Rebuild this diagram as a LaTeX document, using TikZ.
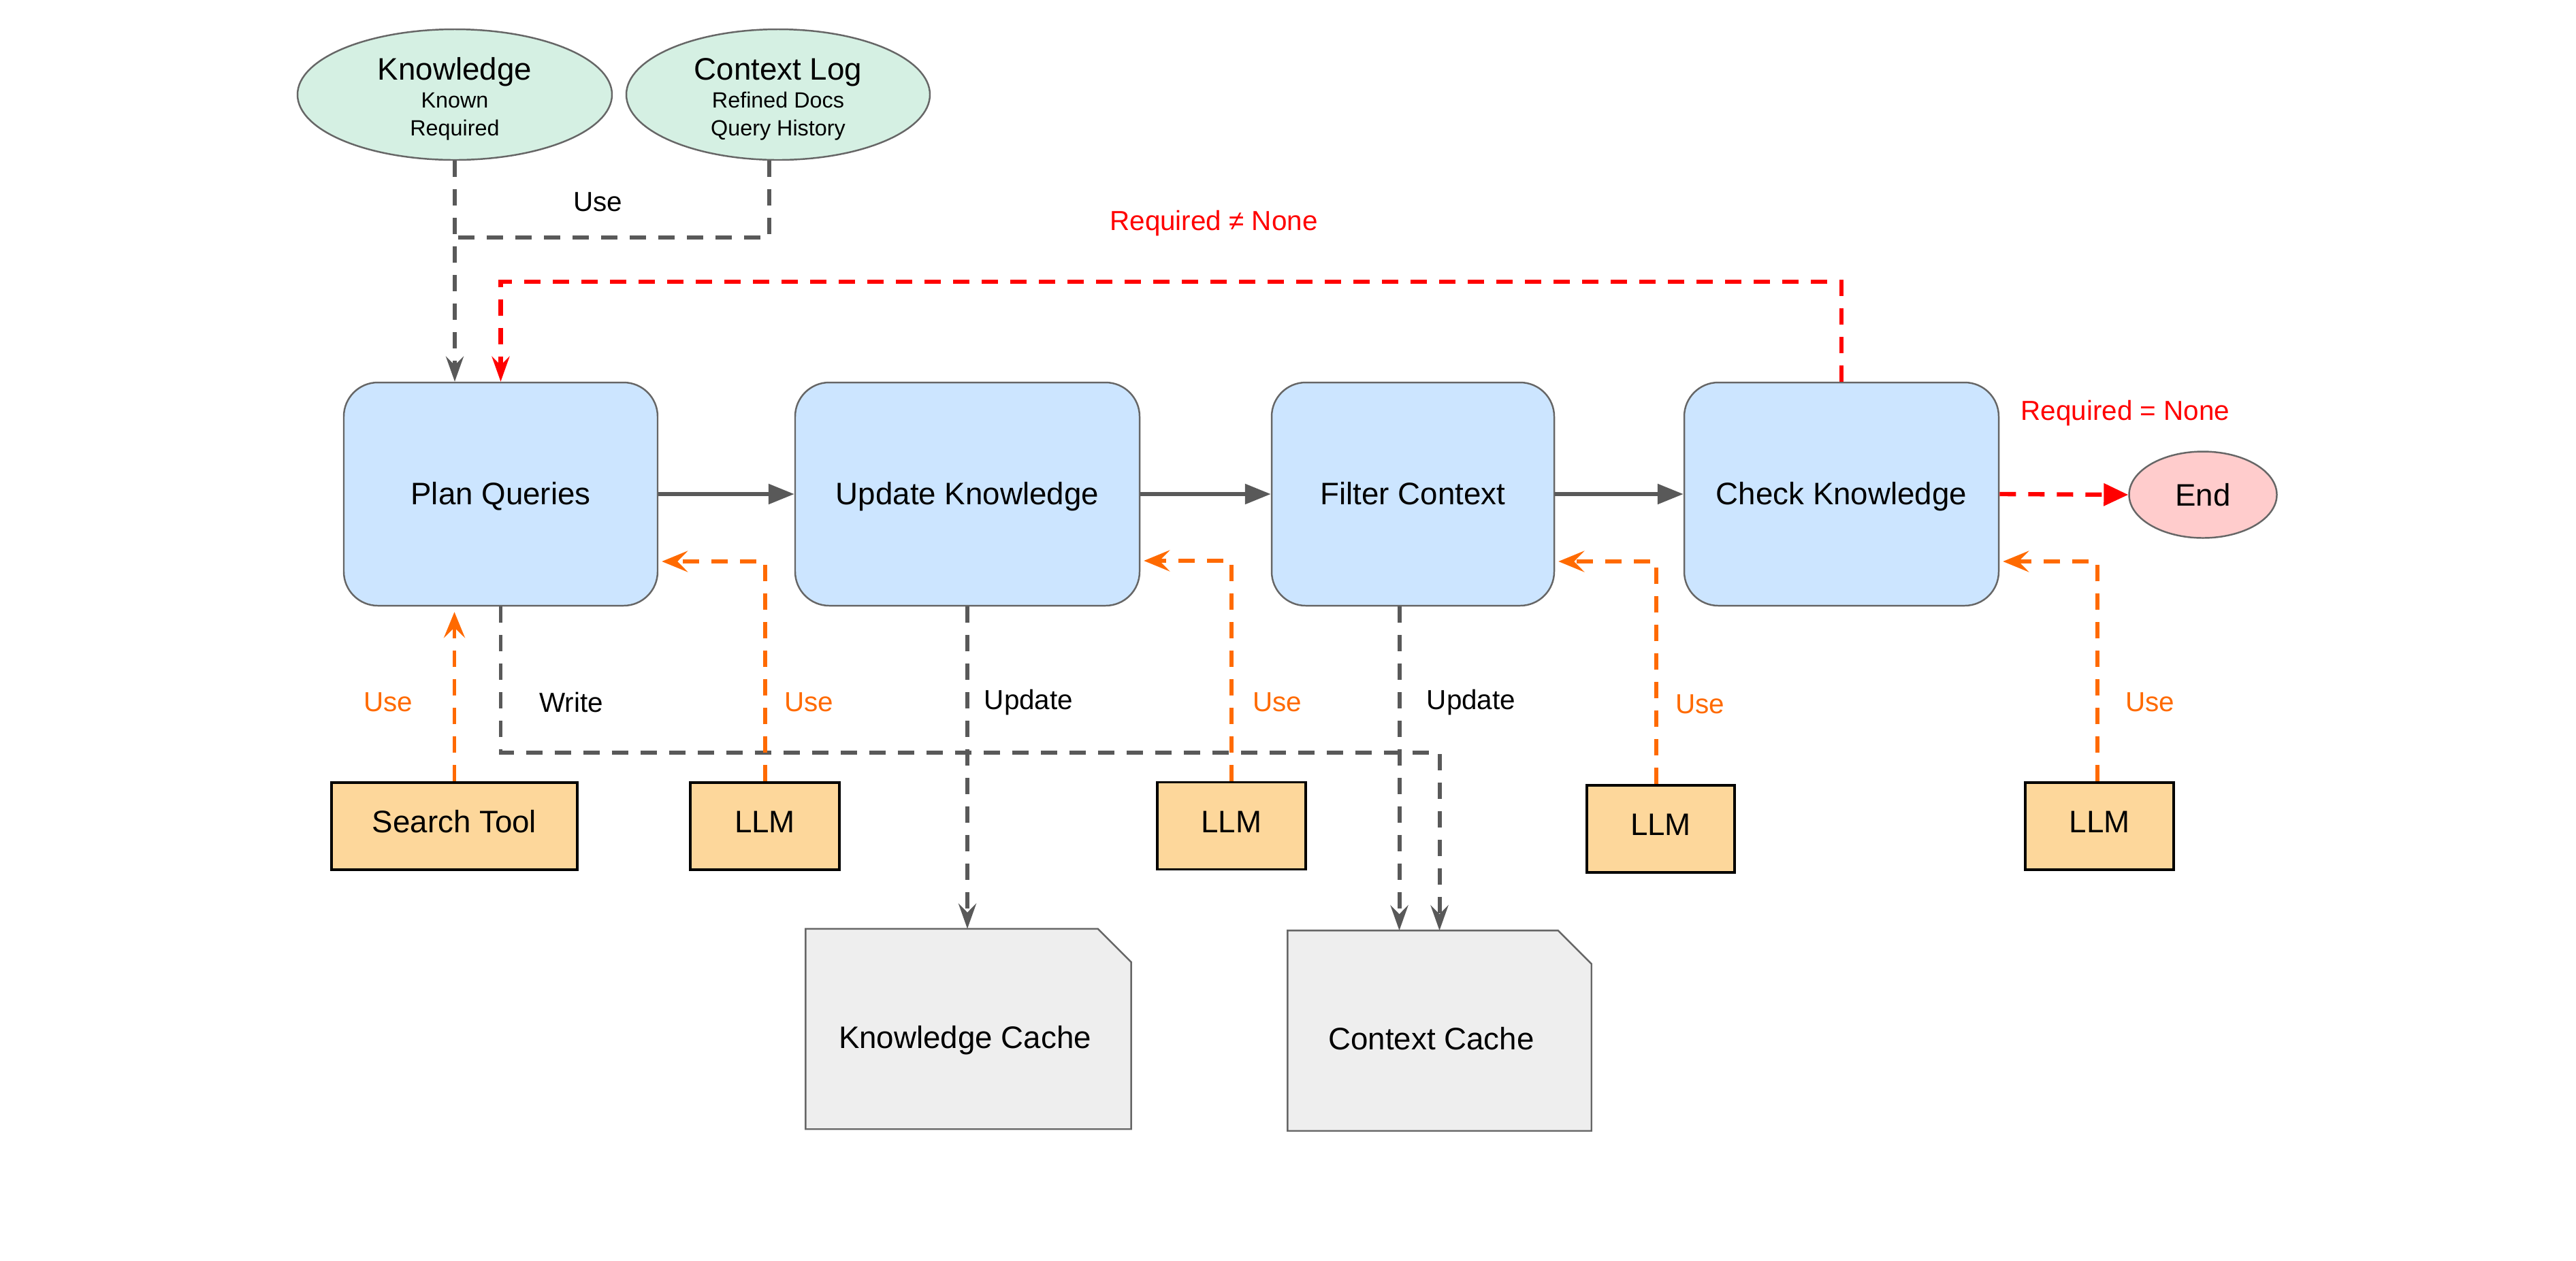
\documentclass[tikz,border=0pt]{standalone}
\usepackage{fontspec}
\setmainfont{Liberation Sans}
\usetikzlibrary{arrows.meta,shapes.geometric,backgrounds}
\definecolor{stageblue}{HTML}{CCE5FF}
\definecolor{statemint}{HTML}{D5F0E3}
\definecolor{toolsand}{HTML}{FDD79B}
\definecolor{endpink}{HTML}{FFCCCC}
\definecolor{cachegray}{HTML}{EEEEEE}
\definecolor{edgegray}{HTML}{666666}
\definecolor{linegray}{HTML}{595959}
\definecolor{useorange}{HTML}{FF6A00}
\definecolor{loopred}{HTML}{FF0000}
\begin{document}
\begin{tikzpicture}[
  stage/.style={draw=edgegray,line width=0.7pt,fill=stageblue,rounded corners=0.5cm,minimum height=3.28cm,inner sep=0pt,text height=0.4cm,text depth=0.1cm,font=\fontsize{13}{15}\selectfont},
  state/.style={ellipse,draw=edgegray,line width=0.7pt,fill=statemint,minimum height=1.92cm,inner sep=0pt,align=center,font=\fontsize{9.2}{11.8}\selectfont},
  tool/.style={draw=black,line width=0.9pt,fill=toolsand,minimum height=1.28cm,inner sep=0pt,text height=0.35cm,text depth=0.16cm,font=\fontsize{13}{15}\selectfont},
  store/.style={minimum height=2.93cm,inner sep=0pt},
  storetext/.style={text height=0.4cm,text depth=0.1cm,font=\fontsize{13}{15}\selectfont},
  lbl/.style={font=\fontsize{11.5}{14}\selectfont},
  flow/.style={draw=linegray,line width=1.6pt,-{Triangle[length=0.38cm,width=0.29cm]}},
  dataline/.style={draw=linegray,line width=1.7pt,dash pattern=on 0.24cm off 0.18cm},
  datarrow/.style={dataline,-{Stealth[length=0.37cm,width=0.26cm,inset=0.13cm]}},
  useline/.style={draw=useorange,line width=1.7pt,dash pattern=on 0.24cm off 0.18cm,-{Stealth[length=0.38cm,width=0.31cm,inset=0.15cm]}},
  loopline/.style={draw=loopred,line width=1.8pt,dash pattern=on 0.24cm off 0.18cm},
]
\useasboundingbox (0,0) rectangle (37.84,-18.52);
% state
\node[state,minimum width=4.62cm] (Know) at (6.68,-1.39) {{\fontsize{13}{15}\selectfont\rule{0pt}{13pt}Knowledge}\\Known\\Required};
\node[state,minimum width=4.46cm] (CtxLog) at (11.43,-1.39) {{\fontsize{13}{15}\selectfont\rule{0pt}{13pt}Context Log}\\Refined Docs\\Query History};
% stages
\node[stage,minimum width=4.61cm] (Plan) at (7.355,-7.26) {Plan Queries};
\node[stage,minimum width=5.06cm] (UpdKnow) at (14.21,-7.26) {Update Knowledge};
\node[stage,minimum width=4.15cm] (Filter) at (20.755,-7.26) {Filter Context};
\node[stage,minimum width=4.62cm] (Check) at (27.05,-7.26) {Check Knowledge};
\node[ellipse,draw=edgegray,line width=0.7pt,fill=endpink,minimum width=2.17cm,minimum height=1.27cm,inner sep=0pt,font=\fontsize{13}{15}\selectfont] (End) at (32.36,-7.27) {End};
% tools
\node[tool,minimum width=3.61cm] (Search) at (6.675,-12.14) {Search Tool};
\node[tool,minimum width=2.19cm] (LLMa) at (11.235,-12.14) {LLM};
\node[tool,minimum width=2.18cm] (LLMb) at (18.09,-12.135) {LLM};
\node[tool,minimum width=2.17cm] (LLMc) at (24.395,-12.18) {LLM};
\node[tool,minimum width=2.18cm] (LLMd) at (30.84,-12.14) {LLM};
% caches
\node[store,minimum width=4.77cm] (KnowCache) at (14.225,-15.12) {};
\node[store,minimum width=4.45cm] (CtxCache) at (21.145,-15.145) {};
\foreach \c in {KnowCache,CtxCache}
  \filldraw[fill=cachegray,draw=edgegray,line width=0.7pt] (\c.south west) -- (\c.north west) -- ([xshift=-0.49cm]\c.north east) -- ([yshift=-0.49cm]\c.north east) -- (\c.south east) -- cycle;
\node[storetext] (KnowCacheTxt) at ([xshift=-0.05cm,yshift=-0.13cm]KnowCache.center) {Knowledge Cache};
\node[storetext] (CtxCacheTxt) at ([xshift=-0.12cm,yshift=-0.13cm]CtxCache.center) {Context Cache};
% state into planning
\coordinate (useJoin) at (Know.south |- 0,-3.49);
\draw[dataline] ([xshift=-0.13cm]CtxLog.south) |- (useJoin);
\draw[datarrow] (Know.south) -- (Know.south |- Plan.north);
\node[lbl] (useState) at (8.78,-2.97) {Use};
% main flow
\draw[flow] (Plan.east) -- (UpdKnow.west);
\draw[flow] (UpdKnow.east) -- (Filter.west);
\draw[flow] (Filter.east) -- (Check.west);
\draw[loopline,-{Triangle[length=0.36cm,width=0.32cm]}] (Check.east) -- (End.west);
\node[lbl,text=loopred] (doneLbl) at (31.22,-6.07) {Required = None};
\draw[loopline,-{Stealth[length=0.37cm,width=0.26cm,inset=0.13cm]}] (Check.north) -- (Check.north |- 0,-4.14) -| (Plan.north);
\node[lbl,text=loopred] (againLbl) at (17.83,-3.28) {Required ≠ None};
% writes to caches
\draw[datarrow] (Plan.south) -- (Plan.south |- 0,-11.06) -| (CtxCache.north);
\draw[datarrow] (UpdKnow.south) -- (UpdKnow.south |- KnowCache.north);
\draw[datarrow] ([xshift=-0.2cm]Filter.south) -- ([xshift=-0.2cm]Filter.south |- CtxCache.north);
\node[lbl] (writeLbl) at (8.39,-10.32) {Write};
\node[lbl] (updKnowLbl) at (15.11,-10.32) {Update};
\node[lbl] (updCtxLbl) at (21.61,-10.32) {Update};
% tool use
\draw[useline,shorten >=0.08cm] (Search.north) -- (Search.north |- Plan.south);
\draw[useline,shorten >=0.05cm] (LLMa.north) |- ([yshift=-0.99cm]Plan.east);
\draw[useline,shorten >=0.05cm] (LLMb.north) |- ([yshift=-0.98cm]UpdKnow.east);
\draw[useline,shorten >=0.05cm] ([xshift=-0.07cm]LLMc.north) |- ([yshift=-0.99cm]Filter.east);
\draw[useline,shorten >=0.05cm] ([xshift=-0.03cm]LLMd.north) |- ([yshift=-0.99cm]Check.east);
\node[lbl,text=useorange] (useSearch) at (5.70,-10.32) {Use};
\node[lbl,text=useorange] (useLLMa) at (11.88,-10.32) {Use};
\node[lbl,text=useorange] (useLLMb) at (18.76,-10.32) {Use};
\node[lbl,text=useorange] (useLLMc) at (24.97,-10.35) {Use};
\node[lbl,text=useorange] (useLLMd) at (31.58,-10.32) {Use};
\end{tikzpicture}
\end{document}
